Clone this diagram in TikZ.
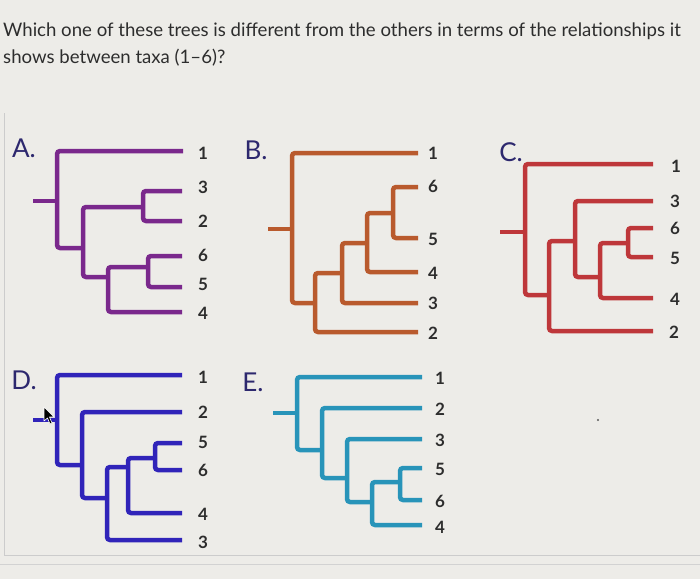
\documentclass[tikz,border=0pt]{standalone}
\usepackage{fontspec}
\setmainfont{Lato}
\definecolor{bg}{RGB}{237,236,232}
\definecolor{txt}{RGB}{45,45,45}
\definecolor{lbl}{RGB}{45,40,110}
\definecolor{cA}{RGB}{122,40,140}
\definecolor{cB}{RGB}{185,90,45}
\definecolor{cC}{RGB}{190,55,58}
\definecolor{cD}{RGB}{48,36,185}
\definecolor{cE}{RGB}{40,148,185}
\tikzset{
  branch/.style={line width=4.5pt, rounded corners=3pt, line cap=butt},
  leaf/.style={font=\fontsize{17}{17}\selectfont\bfseries, text=txt, inner sep=0pt},
  treelabel/.style={font=\fontsize{26}{26}\selectfont, text=lbl, inner sep=0pt},
  qtext/.style={font=\fontsize{18.6}{18.6}\selectfont, text=txt, inner sep=0pt, anchor=base west},
}
\begin{document}
\begin{tikzpicture}[x=1pt,y=-1pt]
\fill[bg] (0,0) rectangle (700,579);
\useasboundingbox (0,0) rectangle (700,579);
% frame lines
\draw[gray!40, line width=0.8pt] (4,113) -- (4,555) -- (700,555);
\draw[gray!35, line width=0.8pt] (0,564) -- (700,564);

\node[qtext] (q1) at (3,36) {Which one of these trees is different from the others in terms of the relationships it};
\node[qtext] (q2) at (3,63) {shows between taxa (1--6)?};

% ---------- Tree A ----------
\node[treelabel] (lA) at (24,148) {A.};
\coordinate (As) at (33,201); \coordinate (Ar) at (57,201);
\coordinate (A1) at (183,151);
\coordinate (An1) at (83,248);
\coordinate (An2) at (143,207);
\coordinate (A3) at (182,191); \coordinate (A2) at (182,221);
\coordinate (An3) at (108,277);
\coordinate (An4) at (148,267);
\coordinate (A6) at (182,256); \coordinate (A5) at (182,287);
\coordinate (A4) at (182,312);
\begin{scope}[branch, draw=cA]
\draw (As) -- (Ar);
\draw (A1) -| (Ar) |- (An1);
\draw (An2) -| (An1) |- (An3);
\draw (A3) -| (An2) |- (A2);
\draw (An4) -| (An3) |- (A4);
\draw (A6) -| (An4) |- (A5);
\end{scope}
\node[leaf] (tA1) at (203,153) {1};
\node[leaf] (tA3) at (203,187) {3};
\node[leaf] (tA2) at (203,221) {2};
\node[leaf] (tA6) at (203,255) {6};
\node[leaf] (tA5) at (203,284) {5};
\node[leaf] (tA4) at (203,313) {4};

% ---------- Tree B ----------
\node[treelabel] (lB) at (256,150) {B.};
\coordinate (Bs) at (268,229); \coordinate (Br) at (292,229);
\coordinate (B1) at (418,153);
\coordinate (Bn1) at (315,303);
\coordinate (Bn2) at (342,273);
\coordinate (B2) at (418,332);
\coordinate (Bn3) at (367,243);
\coordinate (B3) at (418,303);
\coordinate (Bn4) at (393,213);
\coordinate (B4) at (418,272);
\coordinate (B6) at (418,187); \coordinate (B5) at (418,238);
\begin{scope}[branch, draw=cB]
\draw (Bs) -- (Br);
\draw (B1) -| (Br) |- (Bn1);
\draw (Bn2) -| (Bn1) |- (B2);
\draw (Bn3) -| (Bn2) |- (B3);
\draw (Bn4) -| (Bn3) |- (B4);
\draw (B6) -| (Bn4) |- (B5);
\end{scope}
\node[leaf] (tB1) at (433,153) {1};
\node[leaf] (tB6) at (433,186) {6};
\node[leaf] (tB5) at (433,239) {5};
\node[leaf] (tB4) at (433,273) {4};
\node[leaf] (tB3) at (433,303) {3};
\node[leaf] (tB2) at (433,333) {2};

% ---------- Tree C ----------
\node[treelabel] (lC) at (511,152) {C.};
\coordinate (Cs) at (500,232); \coordinate (Cr) at (525,232);
\coordinate (C1) at (653,164);
\coordinate (Cn1) at (549,295);
\coordinate (Cn2) at (575,241);
\coordinate (C2) at (653,331);
\coordinate (C3) at (653,201);
\coordinate (Cn3) at (600,277);
\coordinate (Cn4) at (628,243);
\coordinate (C4) at (653,298);
\coordinate (C6) at (653,228); \coordinate (C5) at (653,257);
\begin{scope}[branch, draw=cC]
\draw (Cs) -- (Cr);
\draw (C1) -| (Cr) |- (Cn1);
\draw (Cn2) -| (Cn1) |- (C2);
\draw (C3) -| (Cn2) |- (Cn3);
\draw (Cn4) -| (Cn3) |- (C4);
\draw (C6) -| (Cn4) |- (C5);
\end{scope}
\node[leaf] (tC1) at (676,166) {1};
\node[leaf] (tC3) at (675,201) {3};
\node[leaf] (tC6) at (675,228) {6};
\node[leaf] (tC5) at (675,258) {5};
\node[leaf] (tC4) at (675,299) {4};
\node[leaf] (tC2) at (674,332) {2};

% ---------- Tree D ----------
\node[treelabel] (lD) at (24,380) {D.};
\coordinate (Ds) at (33,420); \coordinate (Dr) at (57,420);
\coordinate (D1) at (182,375);
\coordinate (Dn1) at (82,465);
\coordinate (D2) at (182,412);
\coordinate (Dn2) at (107,498);
\coordinate (Dn3) at (128,467);
\coordinate (D3) at (182,540);
\coordinate (Dn4) at (155,458);
\coordinate (D4) at (182,513);
\coordinate (D5) at (182,443); \coordinate (D6) at (182,470);
\begin{scope}[branch, draw=cD]
\draw (Ds) -- (Dr);
\draw (D1) -| (Dr) |- (Dn1);
\draw (D2) -| (Dn1) |- (Dn2);
\draw (Dn3) -| (Dn2) |- (D3);
\draw (Dn4) -| (Dn3) |- (D4);
\draw (D5) -| (Dn4) |- (D6);
\end{scope}
\node[leaf] (tD1) at (203,377) {1};
\node[leaf] (tD2) at (203,412) {2};
\node[leaf] (tD5) at (203,442) {5};
\node[leaf] (tD6) at (203,470) {6};
\node[leaf] (tD4) at (203,514) {4};
\node[leaf] (tD3) at (203,542) {3};
% mouse cursor
\filldraw[fill=black, draw=white, line width=0.6pt, line join=round]
  (44,407) -- (44,421) -- (47.5,418) -- (50,424) -- (52,423) -- (49.5,417) -- (54,417) -- cycle;

% ---------- Tree E ----------
\node[treelabel] (lE) at (253,382) {E.};
\coordinate (Es) at (273,413); \coordinate (Er) at (297,413);
\coordinate (E1) at (422,377);
\coordinate (En1) at (322,450);
\coordinate (E2) at (422,408);
\coordinate (En2) at (347,478);
\coordinate (E3) at (422,439);
\coordinate (En3) at (372,502);
\coordinate (En4) at (400,482);
\coordinate (E4) at (422,525);
\coordinate (E5) at (422,468); \coordinate (E6) at (422,500);
\begin{scope}[branch, draw=cE]
\draw (Es) -- (Er);
\draw (E1) -| (Er) |- (En1);
\draw (E2) -| (En1) |- (En2);
\draw (E3) -| (En2) |- (En3);
\draw (En4) -| (En3) |- (E4);
\draw (E5) -| (En4) |- (E6);
\end{scope}
\node[leaf] (tE1) at (440,378) {1};
\node[leaf] (tE2) at (440,409) {2};
\node[leaf] (tE3) at (440,440) {3};
\node[leaf] (tE5) at (440,469) {5};
\node[leaf] (tE6) at (440,501) {6};
\node[leaf] (tE4) at (440,527) {4};

% speck
\fill[gray!70!black] (598,420) circle (1.2pt);
\end{tikzpicture}
\end{document}
